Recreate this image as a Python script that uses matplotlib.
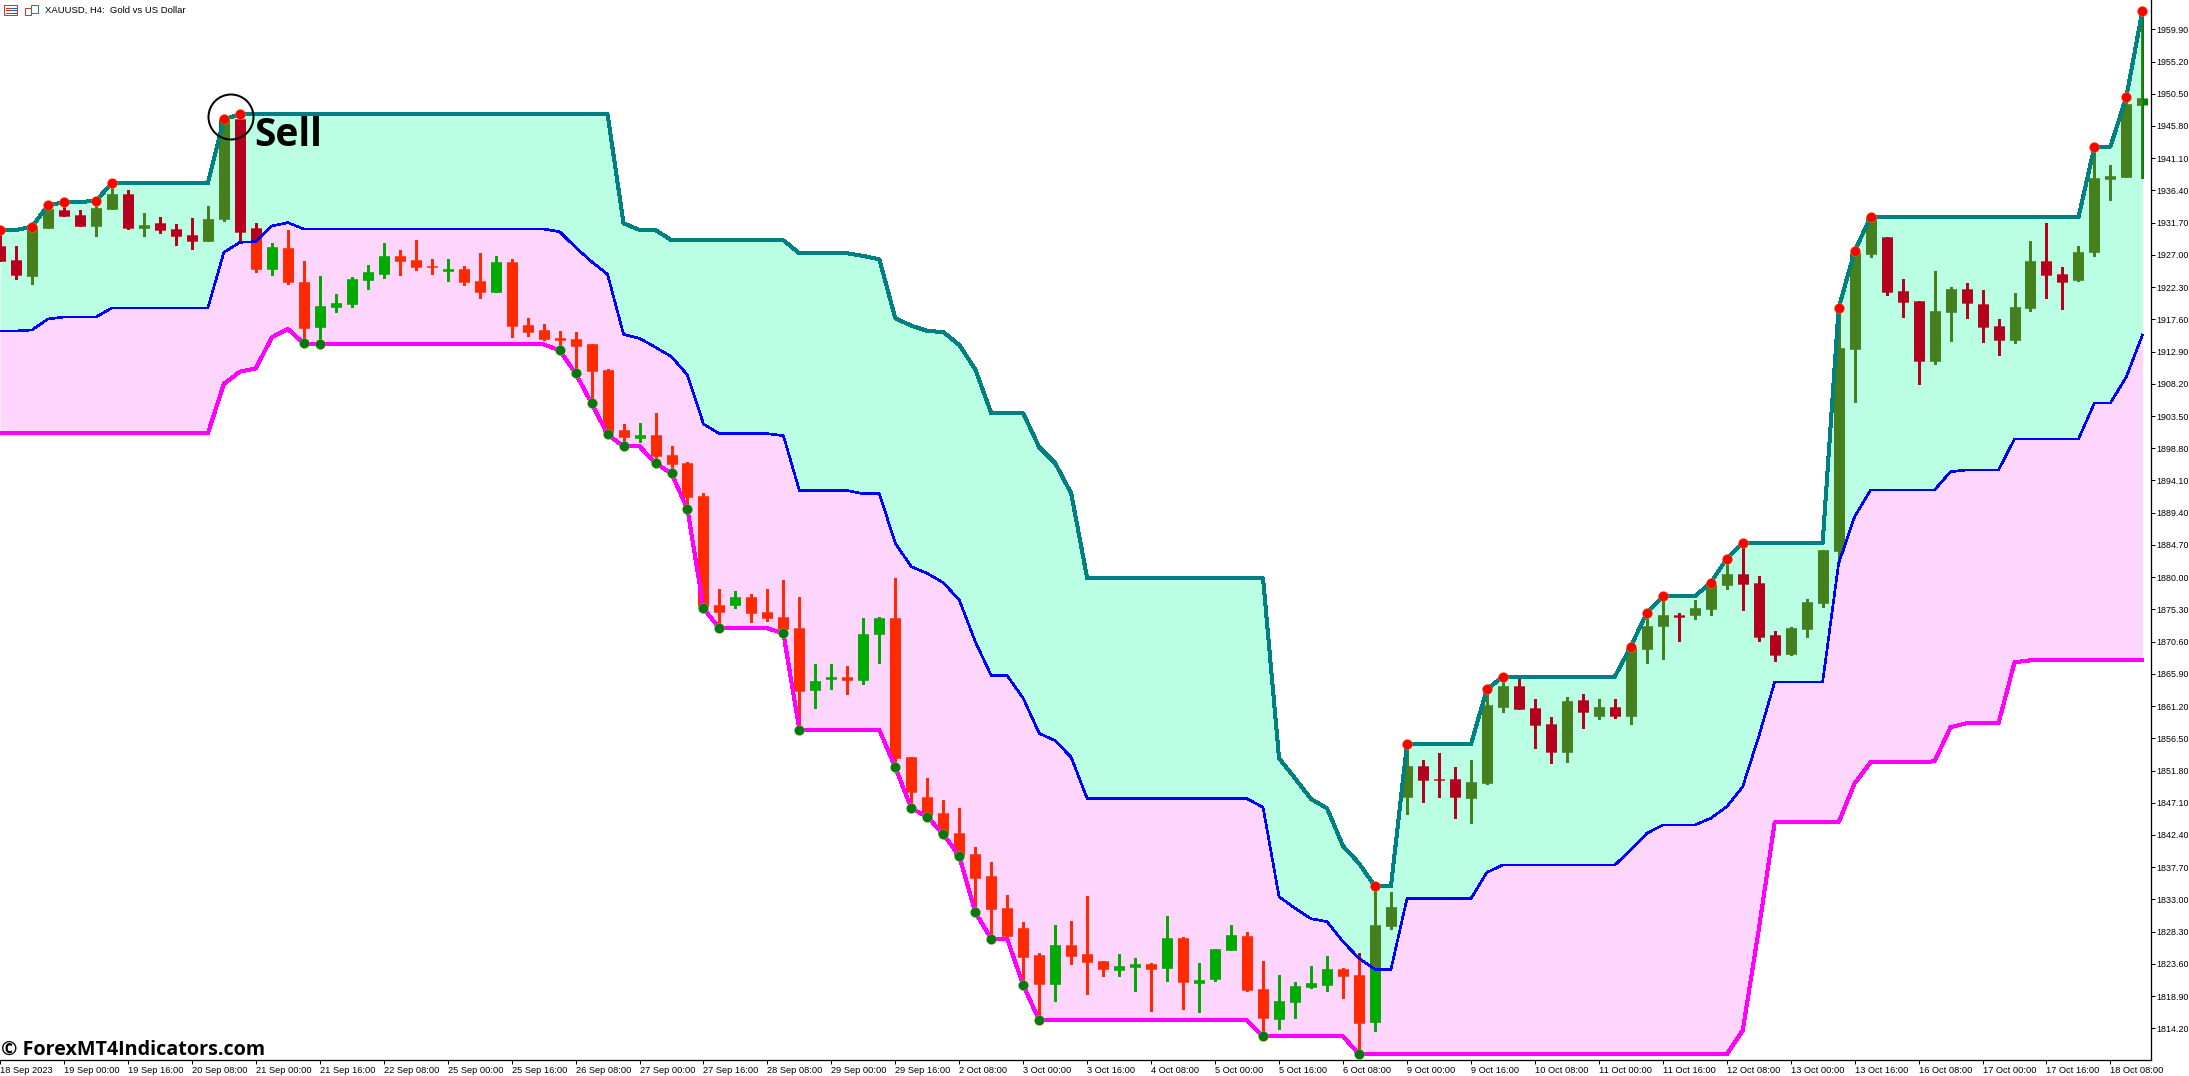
import numpy as np
import matplotlib
matplotlib.use("Agg")
import matplotlib.pyplot as plt
from matplotlib.patches import Ellipse, Rectangle

# H4 candles, one entry per bar
opens = [1928.29, 1926.25, 1923.97, 1930.97, 1933.54, 1932.81, 1931.21, 1933.69, 1935.88, 1930.92,
         1931.65, 1930.77, 1929.90, 1929.02, 1932.23, 1946.82, 1930.92, 1924.94, 1928.00, 1923.04,
         1916.48, 1919.40, 1919.83, 1923.34, 1924.21, 1926.84, 1926.25, 1925.33, 1924.65, 1924.94,
         1923.19, 1921.58, 1925.96, 1916.77, 1916.04, 1914.88, 1914.73, 1914.00, 1910.21, 1901.46,
         1900.29, 1900.73, 1897.81, 1896.65, 1891.83, 1875.94, 1875.94, 1877.10, 1874.92, 1874.19,
         1872.58, 1863.54, 1865.15, 1865.44, 1865.00, 1871.71, 1874.04, 1853.77, 1847.94, 1845.60,
         1842.69, 1839.63, 1836.41, 1831.75, 1828.83, 1824.89, 1820.66, 1826.35, 1825.04, 1824.02,
         1822.71, 1823.14, 1823.58, 1822.99, 1827.37, 1820.81, 1821.39, 1825.62, 1827.66, 1819.93,
         1815.56, 1818.04, 1820.22, 1820.52, 1822.85, 1821.98, 1815.12, 1829.12, 1847.94, 1852.46,
         1850.56, 1850.56, 1847.79, 1849.98, 1861.06, 1864.12, 1860.92, 1858.58, 1854.50, 1862.08,
         1859.75, 1861.06, 1859.75, 1869.52, 1872.88, 1874.48, 1874.48, 1875.35, 1878.85, 1880.46,
         1879.15, 1871.56, 1868.79, 1872.44, 1876.23, 1883.81, 1913.27, 1927.13, 1929.61, 1921.73,
         1920.27, 1911.52, 1918.67, 1922.02, 1919.83, 1916.63, 1914.58, 1919.25, 1926.11, 1924.21,
         1923.34, 1927.42, 1938.06, 1938.36, 1948.86]
highs = [1930.63, 1928.29, 1931.11, 1934.22, 1934.66, 1933.54, 1934.90, 1937.43, 1936.46, 1933.06,
         1932.52, 1931.50, 1932.38, 1934.13, 1946.77, 1947.50, 1931.60, 1928.73, 1930.63, 1926.11,
         1923.92, 1921.29, 1923.77, 1925.52, 1928.73, 1927.71, 1929.17, 1926.40, 1926.40, 1925.38,
         1927.27, 1926.84, 1926.40, 1917.79, 1916.92, 1915.90, 1915.75, 1914.00, 1910.36, 1902.33,
         1902.48, 1903.94, 1899.13, 1896.79, 1892.27, 1878.27, 1877.98, 1877.54, 1878.27, 1879.58,
         1877.10, 1867.33, 1867.33, 1867.04, 1874.04, 1874.19, 1879.88, 1853.77, 1850.71, 1847.50,
         1846.33, 1840.64, 1838.46, 1833.64, 1829.71, 1825.19, 1829.27, 1829.85, 1833.50, 1824.02,
         1825.04, 1824.46, 1823.73, 1830.58, 1827.52, 1823.73, 1825.77, 1829.27, 1828.25, 1824.02,
         1821.98, 1820.96, 1823.29, 1824.75, 1822.99, 1825.19, 1834.86, 1834.08, 1855.62, 1853.33,
         1854.35, 1852.31, 1853.33, 1863.64, 1865.49, 1865.15, 1862.23, 1859.60, 1862.52, 1862.96,
         1862.23, 1862.23, 1869.86, 1874.82, 1877.15, 1874.77, 1876.67, 1879.19, 1882.69, 1885.08,
         1880.17, 1872.15, 1872.73, 1876.81, 1883.96, 1919.20, 1927.56, 1932.47, 1929.61, 1923.48,
         1920.27, 1924.65, 1922.31, 1922.90, 1921.88, 1917.65, 1921.44, 1929.02, 1931.65, 1925.23,
         1928.29, 1942.78, 1940.11, 1950.07, 1962.61]
lows = [1926.15, 1923.53, 1922.75, 1930.97, 1932.67, 1931.21, 1929.75, 1933.69, 1930.77, 1929.75,
        1930.19, 1928.44, 1927.86, 1929.02, 1931.94, 1929.17, 1924.50, 1924.06, 1922.75, 1914.10,
        1913.95, 1918.67, 1919.40, 1922.02, 1923.63, 1924.06, 1924.79, 1924.21, 1923.19, 1922.61,
        1920.71, 1921.58, 1915.02, 1915.17, 1914.58, 1913.13, 1909.72, 1905.35, 1900.83, 1899.13,
        1899.71, 1896.60, 1895.14, 1889.89, 1875.45, 1872.53, 1875.50, 1873.46, 1873.60, 1871.81,
        1857.71, 1860.92, 1863.69, 1862.96, 1864.42, 1867.48, 1852.36, 1846.28, 1845.07, 1842.49,
        1839.33, 1831.12, 1827.23, 1827.52, 1820.47, 1815.37, 1818.19, 1823.58, 1819.21, 1821.83,
        1821.83, 1819.64, 1816.73, 1821.10, 1817.02, 1816.58, 1821.10, 1825.62, 1819.64, 1813.03,
        1814.10, 1815.71, 1820.08, 1819.64, 1818.62, 1810.46, 1813.81, 1828.68, 1845.46, 1847.21,
        1847.94, 1844.87, 1844.14, 1849.83, 1860.33, 1860.77, 1855.08, 1852.90, 1853.04, 1858.00,
        1859.31, 1859.46, 1858.58, 1867.48, 1868.06, 1870.69, 1873.90, 1874.48, 1878.27, 1875.21,
        1870.69, 1867.77, 1868.65, 1871.27, 1875.64, 1882.25, 1905.54, 1926.69, 1921.15, 1917.94,
        1908.17, 1911.08, 1914.44, 1917.79, 1914.29, 1912.40, 1914.15, 1918.81, 1920.71, 1919.11,
        1923.19, 1926.84, 1935.00, 1938.36, 1938.21]
closes = [1926.15, 1924.06, 1931.11, 1933.64, 1932.67, 1931.21, 1933.84, 1935.88, 1930.92, 1931.36,
          1930.63, 1929.75, 1929.02, 1932.23, 1946.77, 1930.34, 1924.94, 1928.15, 1923.04, 1916.33,
          1919.54, 1919.98, 1923.48, 1924.50, 1926.84, 1926.11, 1925.23, 1925.23, 1924.94, 1923.04,
          1921.58, 1925.96, 1916.63, 1915.75, 1914.73, 1914.58, 1913.71, 1910.06, 1901.22, 1900.44,
          1900.73, 1897.67, 1896.50, 1891.69, 1875.79, 1874.92, 1877.10, 1874.77, 1874.04, 1872.44,
          1863.40, 1864.85, 1865.44, 1865.00, 1871.71, 1874.04, 1853.62, 1848.67, 1845.31, 1842.54,
          1839.48, 1836.12, 1831.60, 1827.66, 1824.60, 1820.66, 1826.35, 1824.75, 1823.87, 1822.85,
          1823.29, 1823.58, 1822.85, 1827.37, 1820.96, 1821.25, 1825.77, 1827.81, 1819.79, 1815.71,
          1818.19, 1820.37, 1820.81, 1822.85, 1821.83, 1814.98, 1829.27, 1831.89, 1852.46, 1850.42,
          1850.42, 1847.94, 1850.13, 1861.35, 1864.12, 1860.77, 1858.44, 1854.50, 1861.94, 1860.33,
          1861.06, 1859.75, 1869.67, 1872.88, 1874.48, 1874.19, 1875.50, 1878.85, 1880.46, 1879.00,
          1871.27, 1868.65, 1872.58, 1876.38, 1883.96, 1913.42, 1927.27, 1932.47, 1921.58, 1920.13,
          1911.52, 1918.81, 1922.02, 1919.98, 1916.48, 1914.58, 1919.40, 1926.11, 1924.06, 1923.04,
          1927.42, 1938.21, 1938.50, 1949.00, 1949.88]

# channel lines
upper = [1930.63, 1930.63, 1931.11, 1934.22, 1934.66, 1934.71, 1934.90,
         1937.43, 1937.43, 1937.43, 1937.43, 1937.43, 1937.43, 1937.43, 1946.77,
         1947.50, 1947.50, 1947.50, 1947.50, 1947.50, 1947.50, 1947.50, 1947.50,
         1947.50, 1947.50, 1947.50, 1947.50, 1947.50, 1947.50, 1947.50, 1947.50,
         1947.50, 1947.50, 1947.50, 1947.50, 1947.50, 1947.50, 1947.50, 1947.50,
         1931.60, 1930.63, 1930.63,
         1929.12, 1929.12, 1929.12, 1929.12, 1929.12, 1929.12, 1929.12, 1929.12,
         1927.22, 1927.22, 1927.22, 1927.22, 1926.84, 1926.35,
         1917.74, 1916.67, 1915.90, 1915.75, 1913.85, 1910.31,
         1903.89, 1903.89, 1903.89, 1898.93, 1896.60, 1892.22,
         1879.83, 1879.83, 1879.83, 1879.83, 1879.83, 1879.83,
         1879.83, 1879.83, 1879.83, 1879.83, 1879.83, 1879.83,
         1853.58, 1850.66, 1847.64, 1846.28, 1840.79, 1838.26, 1834.91, 1834.91,
         1855.62, 1855.62, 1855.62, 1855.62, 1855.62, 1863.64,
         1865.49, 1865.49, 1865.49, 1865.49, 1865.49, 1865.49, 1865.49, 1865.49,
         1869.86, 1874.82, 1877.20, 1877.20, 1877.20, 1879.19, 1882.69,
         1885.03, 1885.03, 1885.03, 1885.03, 1885.03, 1885.03, 1919.20, 1927.56,
         1932.47, 1932.47, 1932.47, 1932.47, 1932.47, 1932.47, 1932.47,
         1932.47, 1932.47, 1932.47, 1932.47, 1932.47, 1932.47, 1932.47,
         1942.78, 1942.78, 1950.07, 1962.61]
middle = [1915.90, 1915.90, 1916.04, 1917.65, 1917.94, 1917.94, 1917.94,
          1919.25, 1919.25, 1919.25, 1919.25, 1919.25, 1919.25, 1919.25,
          1927.37, 1928.83, 1928.93, 1931.21, 1931.70,
          1930.77, 1930.77, 1930.77, 1930.77, 1930.77, 1930.77, 1930.77, 1930.77,
          1930.77, 1930.77, 1930.77, 1930.77, 1930.77, 1930.77, 1930.77, 1930.77,
          1930.38, 1928.10, 1926.01, 1924.16, 1915.41, 1914.83, 1913.52, 1912.15, 1909.48, 1902.33,
          1900.93, 1900.93, 1900.93, 1900.93, 1900.63,
          1892.61, 1892.61, 1892.61, 1892.61, 1892.17, 1892.17,
          1884.93, 1881.53, 1880.55, 1879.19, 1876.67, 1870.59, 1865.63, 1865.63,
          1862.33, 1857.22, 1856.15, 1853.72,
          1847.69, 1847.69, 1847.69, 1847.69, 1847.69, 1847.69,
          1847.69, 1847.69, 1847.69, 1847.69, 1847.69,
          1846.43, 1833.40, 1831.70, 1830.19, 1829.75, 1826.84, 1824.41, 1822.80, 1822.80,
          1833.11, 1833.11, 1833.11, 1833.11, 1833.11, 1836.95,
          1838.02, 1838.02, 1838.02, 1838.02, 1838.02, 1838.02, 1838.02, 1838.02,
          1840.21, 1842.64, 1843.85, 1843.85, 1843.85, 1844.83, 1846.53, 1849.44, 1856.73,
          1864.71, 1864.71, 1864.71, 1864.71, 1882.01, 1888.82,
          1892.71, 1892.71, 1892.71, 1892.71, 1892.71, 1895.38,
          1895.63, 1895.63, 1895.63, 1900.15, 1900.15, 1900.15, 1900.15, 1900.15,
          1905.40, 1905.40, 1909.24, 1915.31]
lower = [1900.97, 1900.97, 1900.97, 1900.97, 1900.97, 1900.97, 1900.97,
         1900.97, 1900.97, 1900.97, 1900.97, 1900.97, 1900.97, 1900.97,
         1908.17, 1909.97, 1910.45, 1914.97, 1916.19, 1914.10,
         1913.95, 1913.95, 1913.95, 1913.95, 1913.95, 1913.95, 1913.95, 1913.95,
         1913.95, 1913.95, 1913.95, 1913.95, 1913.95, 1913.95, 1913.95,
         1913.08, 1909.72, 1905.35, 1900.83, 1899.08, 1899.08, 1896.60, 1895.14, 1889.89, 1875.45,
         1872.53, 1872.53, 1872.53, 1872.53, 1871.81,
         1857.71, 1857.71, 1857.71, 1857.71, 1857.71, 1857.71,
         1852.26, 1846.28, 1845.07, 1842.49, 1839.33, 1831.12, 1827.23, 1827.23, 1820.47,
         1815.37, 1815.37, 1815.37, 1815.37, 1815.37, 1815.37, 1815.37,
         1815.37, 1815.37, 1815.37, 1815.37, 1815.37, 1815.37, 1815.37,
         1813.03, 1813.03, 1813.03, 1813.03, 1813.03, 1813.03,
         1810.41, 1810.41, 1810.41, 1810.41, 1810.41, 1810.41, 1810.41, 1810.41,
         1810.41, 1810.41, 1810.41, 1810.41, 1810.41, 1810.41, 1810.41, 1810.41,
         1810.41, 1810.41, 1810.41, 1810.41, 1810.41, 1810.41, 1810.41, 1810.41,
         1813.86, 1828.54, 1844.24, 1844.24, 1844.24, 1844.24, 1844.24, 1849.93,
         1853.00, 1853.00, 1853.00, 1853.00, 1853.14, 1858.12, 1858.68, 1858.68, 1858.68,
         1867.58, 1867.87, 1867.87, 1867.87, 1867.87, 1867.87, 1867.87, 1867.87, 1867.87]

# bars that carry a dot
sell_bars = [0, 2, 3, 4, 6, 7, 14, 15, 86, 88, 93, 94, 102, 103, 104, 107, 108, 109,
             115, 116, 117, 131, 133, 134]
buy_bars = [19, 20, 35, 36, 37, 38, 39, 41, 42, 43, 44, 45, 49, 50, 56, 57, 58, 59,
            60, 61, 62, 64, 65, 79, 85]

price_ticks = [1959.90, 1955.20, 1950.50, 1945.80, 1941.10, 1936.40, 1931.70, 1927.00,
               1922.30, 1917.60, 1912.90, 1908.20, 1903.50, 1898.80, 1894.10, 1889.40,
               1884.70, 1880.00, 1875.30, 1870.60, 1865.90, 1861.20, 1856.50, 1851.80,
               1847.10, 1842.40, 1837.70, 1833.00, 1828.30, 1823.60, 1818.90, 1814.20]
time_labels = ["18 Sep 2023", "19 Sep 00:00", "19 Sep 16:00", "20 Sep 08:00", "21 Sep 00:00",
               "21 Sep 16:00", "22 Sep 08:00", "25 Sep 00:00", "25 Sep 16:00", "26 Sep 08:00",
               "27 Sep 00:00", "27 Sep 16:00", "28 Sep 08:00", "29 Sep 00:00", "29 Sep 16:00",
               "2 Oct 08:00", "3 Oct 00:00", "3 Oct 16:00", "4 Oct 08:00", "5 Oct 00:00",
               "5 Oct 16:00", "6 Oct 08:00", "9 Oct 00:00", "9 Oct 16:00", "10 Oct 08:00",
               "11 Oct 00:00", "11 Oct 16:00", "12 Oct 08:00", "13 Oct 00:00", "13 Oct 16:00",
               "16 Oct 08:00", "17 Oct 00:00", "17 Oct 16:00", "18 Oct 08:00"]

W, H = 2189, 1076
AXES_W, AXES_H = 2150.7, 1060.3
PX = 72 / 100  # one pixel in points
SMALL_FONT = ["Liberation Sans", "DejaVu Sans"]

fig = plt.figure(figsize=(W / 100, H / 100), dpi=100, facecolor="white")
ax = fig.add_axes([0, 1 - AXES_H / H, AXES_W / W, AXES_H / H])

idx = np.arange(len(closes))
opens, highs, lows, closes = map(np.array, (opens, highs, lows, closes))
upper, middle, lower = map(np.array, (upper, middle, lower))

teal_fill = ax.fill_between(idx, middle, upper, color="#baffe4", lw=0, zorder=1)
pink_fill = ax.fill_between(idx, lower, middle, color="#fdd5fd", lw=0, zorder=1)


# candle colours depend on the background they sit on, so draw them once per region
def draw_candles(up_color, down_color, clip_fill=None, z=2):
    colors = [up_color if c >= o else down_color for o, c in zip(opens, closes)]
    wicks = ax.vlines(idx, lows, highs, colors=colors, lw=1.1 * PX, zorder=z, antialiased=False)
    bodies = ax.vlines(idx, np.minimum(opens, closes), np.maximum(opens, closes),
                       colors=colors, lw=11 * PX, zorder=z)
    if clip_fill is not None:
        path = clip_fill.get_paths()[0]
        wicks.set_clip_path(path, ax.transData)
        bodies.set_clip_path(path, ax.transData)


draw_candles("#008000", "#ff2a00", z=2)
draw_candles("#467f1e", "#b5001e", teal_fill, z=2.1)
draw_candles("#00aa00", "#ff2a00", pink_fill, z=2.2)

ax.plot(idx, upper, color="#008080", lw=3 * PX, zorder=3, antialiased=False)
ax.plot(idx, lower, color="#ff00ff", lw=3 * PX, zorder=3, antialiased=False)
ax.plot(idx, middle, color="#0000ff", lw=1.6 * PX, zorder=3.1, antialiased=False)

ax.plot(idx[sell_bars], upper[sell_bars], ls="none", marker="o", ms=10 * PX,
        mfc="#ff0000", mec="#ff8a20", mew=0.3, zorder=4)
ax.plot(idx[buy_bars], lower[buy_bars], ls="none", marker="o", ms=10 * PX,
        mfc="#007a10", mec="#b8b040", mew=0.3, zorder=4)

# bar i sits at -1.6 + 16 * i pixels
ax.set_xlim(1.6 / 16, (AXES_W + 1.6) / 16)
ax.set_ylim(1964.17 - AXES_H * 0.14584, 1964.17)

ax.yaxis.tick_right()
ax.set_yticks(price_ticks)
ax.set_yticklabels(["%.2f" % p for p in price_ticks], family=SMALL_FONT, fontsize=6.4)
ax.tick_params(axis="y", length=3 * PX * 1.3, width=1 * PX, pad=1.5)

tick_bars = np.arange(len(time_labels)) * 4
ax.set_xticks(tick_bars)
ax.set_xticklabels(time_labels, family=SMALL_FONT, fontsize=6.7, ha="left")
ax.tick_params(axis="x", length=4 * PX, width=1 * PX, pad=1.5)

for side in ["top", "left"]:
    ax.spines[side].set_visible(False)
for side in ["right", "bottom"]:
    ax.spines[side].set_linewidth(1.3 * PX)

# overlay in image pixels for the annotations
ov = fig.add_axes([0, 0, 1, 1], zorder=5)
ov.set_xlim(0, W)
ov.set_ylim(H, 0)
ov.axis("off")

ov.add_patch(Ellipse((231, 117), 45, 45, fill=False, ec="black", lw=2 * PX))
ov.text(254, 146, "Sell", family=["Open Sans", "DejaVu Sans"], weight="bold",
        fontsize=28, color="black", va="baseline", ha="left")
ov.text(1, 1055, "\u00a9 ForexMT4Indicators.com", family=["Open Sans", "DejaVu Sans"],
        weight="bold", fontsize=14.2, color="black", va="baseline", ha="left")

# window icons and chart title
ov.add_patch(Rectangle((4, 5), 13, 9.5, fc="white", ec="#e03020", lw=1 * PX))
for y in [7.5, 10, 12.5]:
    ov.plot([6, 10], [y, y], color="#e03020", lw=1 * PX)
    ov.plot([11, 15.5], [y, y], color="#1060c0", lw=1 * PX)
ov.add_patch(Rectangle((25, 8), 6, 7, fc="white", ec="#e03020", lw=1 * PX))
ov.add_patch(Rectangle((31, 5), 7, 8, fc="white", ec="#1080d0", lw=1 * PX))
ov.text(45, 10, "XAUUSD, H4:  Gold vs US Dollar", family=SMALL_FONT, fontsize=6.8,
        color="black", va="center", ha="left")

fig.savefig("out.png", dpi=100, facecolor="white")
